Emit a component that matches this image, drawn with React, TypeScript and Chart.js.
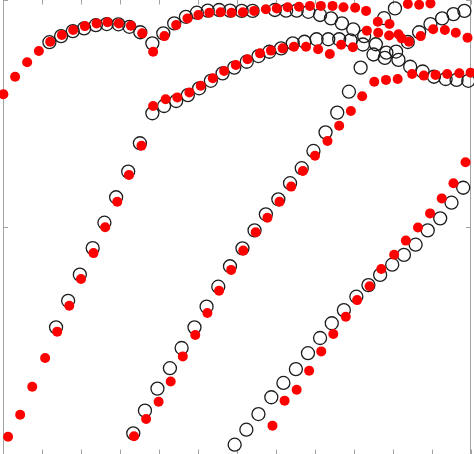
import React, { useEffect, useRef } from 'react';
import { Chart, registerables } from 'chart.js';

Chart.register(...registerables);

type Pt = [number, number];

// axis ranges and tick values (labels are cropped away in the picture)
const xTicks = [0, 1, 2, 3, 4, 5, 6, 7, 8, 9, 10, 11, 12];
const yTicks = [0, 1, 2];

// filled red markers
const redUpper: Pt[] = [
  [0.01, 1.585], [0.31, 1.662], [0.62, 1.726], [0.92, 1.775], [1.21, 1.816],
  [1.51, 1.846], [1.8, 1.868], [2.1, 1.885], [2.4, 1.897], [2.68, 1.902],
  [2.97, 1.897], [3.28, 1.887], [3.57, 1.853], [3.85, 1.772], [4.14, 1.841],
  [4.44, 1.89], [4.73, 1.919], [5.01, 1.934], [5.29, 1.944], [5.58, 1.946],
  [5.86, 1.944], [6.15, 1.946], [6.44, 1.952], [6.74, 1.959], [7.02, 1.963],
  [7.3, 1.968], [7.59, 1.97], [7.87, 1.974], [8.15, 1.974], [8.45, 1.974],
  [8.73, 1.968], [9.03, 1.966], [9.31, 1.952], [9.61, 1.904], [9.91, 1.894],
  [10.38, 1.982], [10.67, 1.979], [10.96, 1.985],
];
const redMiddle: Pt[] = [
  [3.85, 1.533], [4.17, 1.563], [4.47, 1.571], [4.78, 1.593], [5.07, 1.622],
  [5.38, 1.655], [5.67, 1.687], [5.97, 1.714], [6.27, 1.739], [6.59, 1.765],
  [6.87, 1.777], [7.17, 1.787], [7.46, 1.794], [7.77, 1.794], [8.08, 1.783],
  [8.38, 1.762], [8.67, 1.803], [8.97, 1.792], [9.33, 1.865], [9.62, 1.856],
  [9.9, 1.844], [10.14, 1.849], [10.22, 1.831], [10.41, 1.816], [10.71, 1.841],
  [11.03, 1.871], [11.33, 1.868], [11.61, 1.856], [11.91, 1.834],
];
const redSteepLeft: Pt[] = [
  [0.13, 0.076], [0.44, 0.173], [0.75, 0.296], [1.08, 0.423], [1.39, 0.539],
  [1.7, 0.653], [2.0, 0.771], [2.32, 0.885], [2.62, 0.999], [2.93, 1.111],
  [3.23, 1.229], [3.55, 1.358],
];
const redSteepMid: Pt[] = [
  [3.36, 0.078], [3.67, 0.154], [3.99, 0.23], [4.3, 0.319], [4.61, 0.43],
  [4.93, 0.524], [5.24, 0.621], [5.54, 0.719], [5.85, 0.811], [6.16, 0.896],
  [6.48, 0.977], [6.78, 1.041], [7.09, 1.111], [7.39, 1.178], [7.69, 1.247],
  [8.0, 1.314], [8.32, 1.379], [8.62, 1.446], [8.92, 1.511], [9.21, 1.576],
  [9.52, 1.64], [9.82, 1.648], [10.12, 1.652], [10.49, 1.674], [10.79, 1.667],
  [11.09, 1.67], [11.39, 1.674], [11.7, 1.677], [11.99, 1.68],
];
const redSteepRight: Pt[] = [
  [6.91, 0.125], [7.22, 0.235], [7.53, 0.283], [7.85, 0.367], [8.16, 0.452],
  [8.47, 0.529], [8.79, 0.605], [9.08, 0.678], [9.4, 0.739], [9.7, 0.815],
  [10.03, 0.878], [10.33, 0.94], [10.64, 0.998], [10.95, 1.06], [11.25, 1.126],
  [11.55, 1.193], [11.86, 1.285],
];

// open black circles
const ringUpper: Pt[] = [
  [1.19, 1.814], [1.49, 1.841], [1.79, 1.863], [2.08, 1.875], [2.38, 1.889],
  [2.66, 1.894], [2.96, 1.893], [3.24, 1.882], [3.52, 1.858], [3.83, 1.809],
  [4.11, 1.853], [4.39, 1.897], [4.69, 1.926], [4.97, 1.944], [5.25, 1.953],
  [5.54, 1.956], [5.82, 1.953], [6.12, 1.952], [6.4, 1.952], [6.97, 1.956],
  [7.26, 1.953], [7.53, 1.953], [7.83, 1.948], [8.13, 1.934], [8.41, 1.919],
  [8.69, 1.897], [8.98, 1.871], [9.26, 1.841], [9.56, 1.805], [9.83, 1.768],
  [10.14, 1.736], [10.44, 1.706], [10.76, 1.685], [11.05, 1.662], [11.35, 1.652],
  [11.63, 1.648], [11.93, 1.644],
];
const ringMiddle: Pt[] = [
  [3.83, 1.501], [4.13, 1.533], [4.44, 1.555], [4.74, 1.581], [5.03, 1.611],
  [5.33, 1.644], [5.63, 1.677], [5.93, 1.702], [6.25, 1.728], [6.55, 1.753],
  [6.83, 1.772], [7.13, 1.787], [7.43, 1.809], [7.73, 1.816], [8.04, 1.827],
  [8.34, 1.827], [8.62, 1.827], [8.91, 1.822], [9.23, 1.804], [9.5, 1.76],
  [9.79, 1.745], [10.08, 1.773], [10.38, 1.815], [10.67, 1.858], [10.96, 1.894],
  [11.26, 1.919], [11.55, 1.938], [11.83, 1.952], [9.77, 1.92], [10.05, 1.963],
];
const ringSteepLeft: Pt[] = [
  [1.36, 0.558], [1.67, 0.675], [1.97, 0.79], [2.3, 0.907], [2.6, 1.019],
  [2.9, 1.131], [3.21, 1.244], [3.51, 1.369],
];
const ringSteepMid: Pt[] = [
  [3.34, 0.091], [3.64, 0.191], [3.96, 0.288], [4.28, 0.378], [4.58, 0.467],
  [4.91, 0.558], [5.22, 0.649], [5.52, 0.737], [5.82, 0.827], [6.14, 0.906],
  [6.45, 0.985], [6.74, 1.056], [7.06, 1.122], [7.36, 1.193], [7.66, 1.259],
  [7.96, 1.335], [8.27, 1.417], [8.57, 1.504], [8.87, 1.596], [9.17, 1.702],
];
const ringSteepRight: Pt[] = [
  [5.94, 0.041], [6.24, 0.107], [6.55, 0.176], [6.88, 0.25], [7.19, 0.313],
  [7.51, 0.374], [7.82, 0.444], [8.13, 0.511], [8.43, 0.576], [8.74, 0.634],
  [9.06, 0.693], [9.37, 0.744], [9.67, 0.789], [9.98, 0.834], [10.28, 0.877],
  [10.58, 0.922], [10.89, 0.985], [11.21, 1.038], [11.5, 1.107], [11.8, 1.173],
];

const redPoints = [...redUpper, ...redMiddle, ...redSteepLeft, ...redSteepMid, ...redSteepRight];
const ringPoints = [...ringUpper, ...ringMiddle, ...ringSteepLeft, ...ringSteepMid, ...ringSteepRight];

const toXY = (pts: Pt[]) => pts.map(([x, y]) => ({ x, y }));

// box with inward ticks, matlab style
const framePlugin = {
  id: 'frame',
  beforeDatasetsDraw(chart: any) {
    const { ctx, chartArea } = chart;
    const { left, right, top, bottom } = chartArea;
    const xs = chart.scales.x;
    const ys = chart.scales.y;
    ctx.save();
    ctx.strokeStyle = '#a3a3a3';
    ctx.lineWidth = 1;
    ctx.beginPath();
    ctx.moveTo(left + 0.5, top);
    ctx.lineTo(left + 0.5, bottom);
    ctx.moveTo(right - 0.5, top);
    ctx.lineTo(right - 0.5, bottom);
    xTicks.forEach((v) => {
      const px = Math.round(xs.getPixelForValue(v)) + 0.5;
      ctx.moveTo(px, top);
      ctx.lineTo(px, top + 4.5);
      ctx.moveTo(px, bottom);
      ctx.lineTo(px, bottom - 4.5);
    });
    yTicks.forEach((v) => {
      const py = Math.round(ys.getPixelForValue(v)) + 0.5;
      ctx.moveTo(left, py);
      ctx.lineTo(left + 5, py);
      ctx.moveTo(right, py);
      ctx.lineTo(right - 5, py);
    });
    ctx.stroke();
    ctx.restore();
  },
};

export default function App() {
  const canvasRef = useRef<HTMLCanvasElement>(null);

  useEffect(() => {
    document.body.style.margin = '0';
    if (!canvasRef.current) return;

    const chart = new Chart(canvasRef.current, {
      type: 'scatter',
      data: {
        datasets: [
          {
            label: 'red',
            data: toXY(redPoints),
            pointRadius: 5,
            pointBackgroundColor: '#ff0000',
            pointBorderWidth: 0,
            clip: false as any,
          },
          {
            label: 'rings',
            data: toXY(ringPoints),
            pointRadius: 6.5,
            pointBackgroundColor: 'rgba(0,0,0,0)',
            pointBorderColor: '#1c1c1c',
            pointBorderWidth: 1.3,
            clip: false as any,
          },
        ],
      },
      options: {
        responsive: false,
        animation: false,
        layout: { autoPadding: false, padding: { left: 3, right: 3, top: 0, bottom: 0 } },
        plugins: { legend: { display: false }, tooltip: { enabled: false } },
        events: [],
        scales: {
          x: { type: 'linear', min: 0, max: 12, display: false },
          y: { type: 'linear', min: 0, max: 2, display: false },
        },
      },
      plugins: [framePlugin],
    });

    return () => {
      chart.destroy();
    };
  }, []);

  return (
    <div style={{ width: 474, height: 454, background: '#fff' }}>
      <canvas ref={canvasRef} width={474} height={454} />
    </div>
  );
}
